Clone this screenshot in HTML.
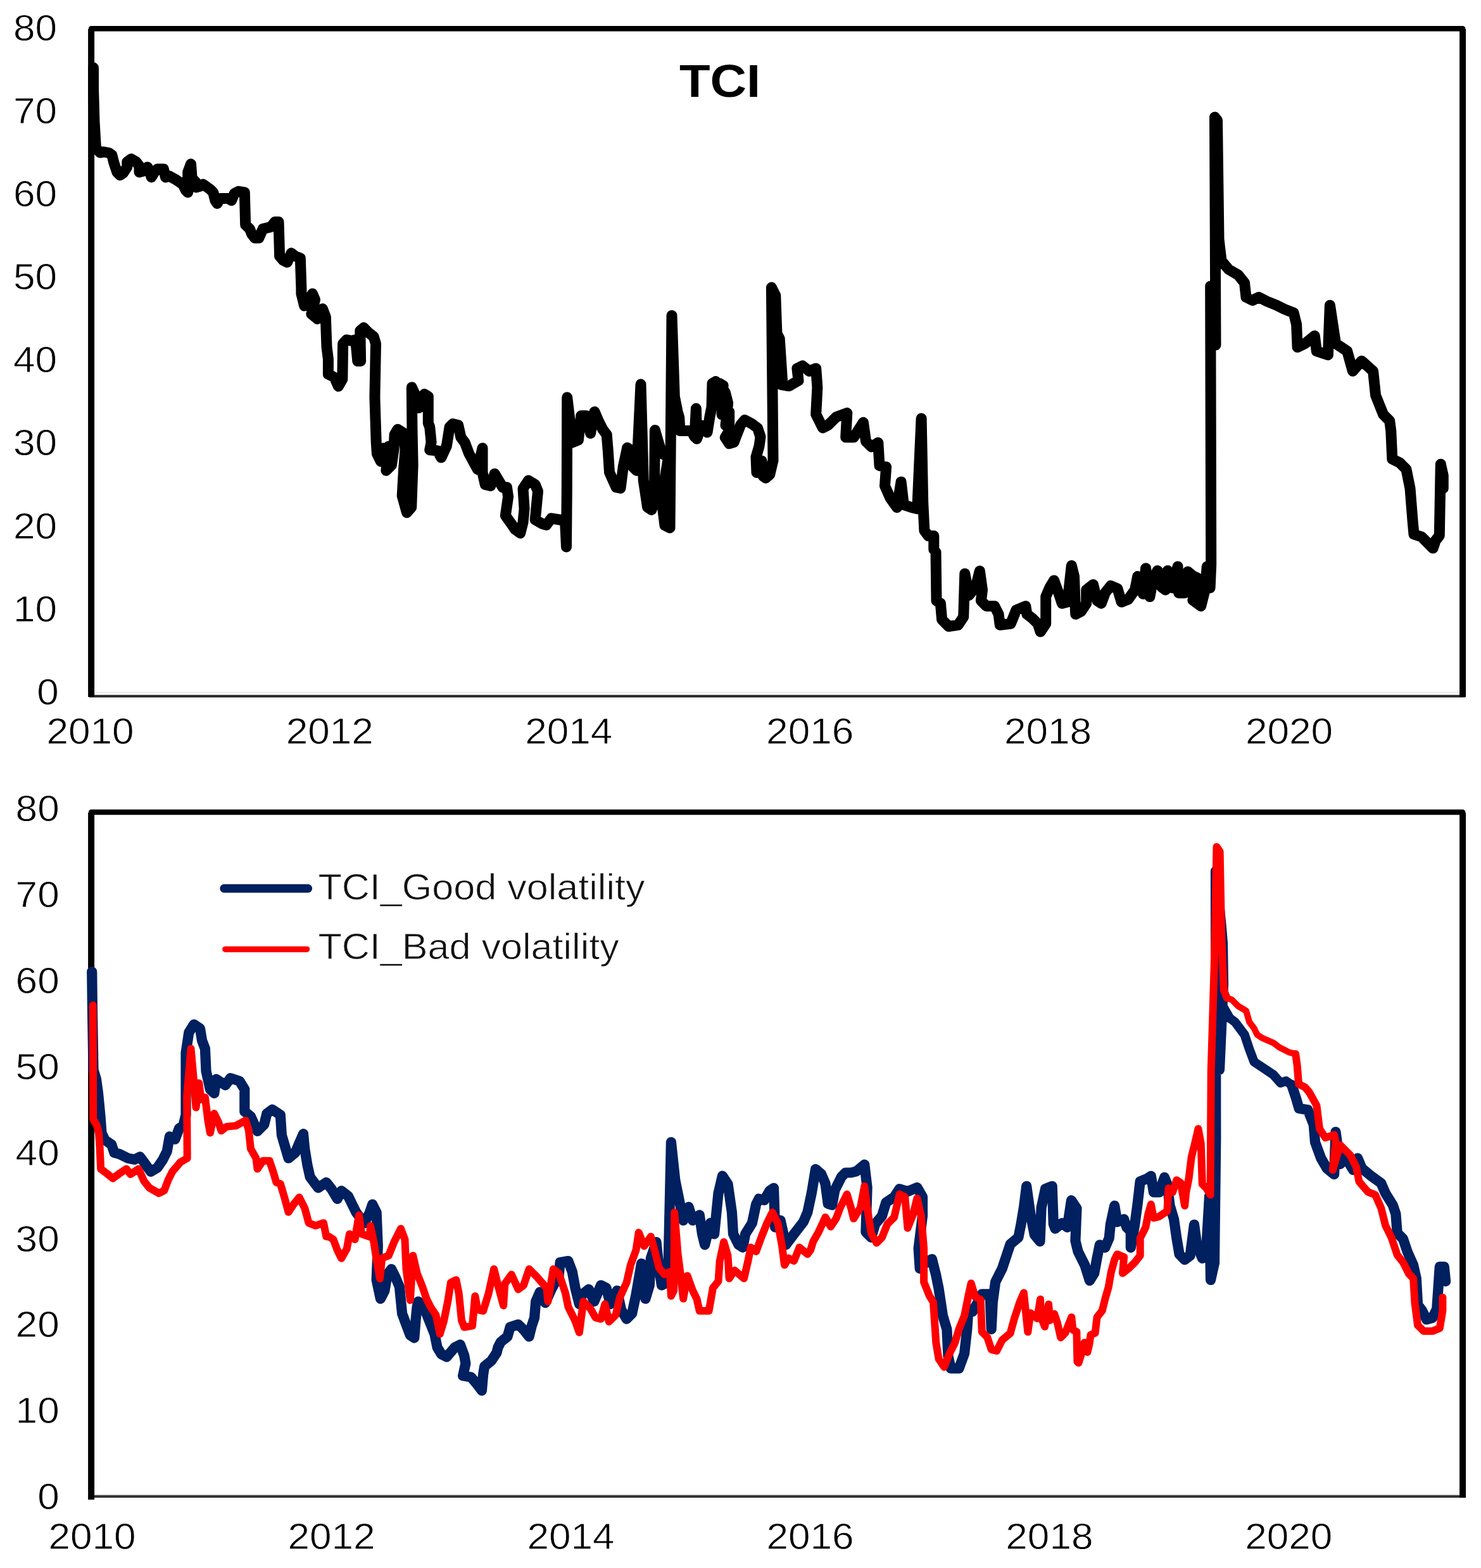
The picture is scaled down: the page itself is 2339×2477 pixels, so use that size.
<!DOCTYPE html>
<html><head><meta charset="utf-8"><title>TCI</title>
<style>html,body{margin:0;padding:0;background:#fff;}svg{display:block;}</style>
</head><body>
<svg width="2339" height="2477" viewBox="0 0 2339 2477">
<rect width="2339" height="2477" fill="#fff"/>

<g id="c1">
<line x1="141" y1="1093.8" x2="2313" y2="1093.8" stroke="#e2e2e2" stroke-width="1.3"/>
<line x1="141" y1="1099.8" x2="2314" y2="1099.8" stroke="#2a2a2a" stroke-width="4"/>
<path d="M144.1 1101 L144.1 45.35 L2310.1 45.35 L2310.1 1101" fill="none" stroke="#000" stroke-width="8.5" stroke-linejoin="round"/>
<path d="M144.1 1101 L144.1 46 M2310.1 46 L2310.1 1101" fill="none" stroke="#000" stroke-width="10"/>
<path d="M147.5 107.0L147.5 140.0 148.2 163.0 149.0 192.0 150.5 218.0 151.5 234.0 158.0 241.0 164.0 240.0 172.0 241.5 176.8 244.7 180.0 257.5 184.8 271.9 189.6 276.7 194.4 273.5 200.8 263.9 200.8 255.9 207.2 251.1 215.2 255.9 220.0 262.3 220.0 271.9 226.4 270.3 232.8 263.9 236.0 268.7 239.1 279.9 243.9 271.9 248.7 267.1 258.3 267.1 261.5 279.9 267.9 278.3 279.1 284.7 288.7 291.1 293.5 300.7 296.7 303.9 296.7 271.9 301.5 259.1 303.1 281.5 309.5 287.9 309.5 295.9 315.9 294.3 320.7 291.1 331.9 299.1 336.7 303.9 339.9 316.7 343.1 321.5 347.9 313.5 360.7 313.5 365.5 316.7 370.3 305.5 376.7 302.3 386.3 303.9 387.7 355.2 394.4 361.6 397.6 369.6 402.4 376.0 408.8 376.0 415.2 361.6 421.6 360.0 428.0 358.4 434.4 350.4 440.0 350.4 440.8 376.0 441.6 404.7 447.2 411.1 453.6 414.3 460.0 399.9 466.4 404.7 474.3 407.9 475.9 455.9 475.9 463.9 480.7 483.1 493.5 463.9 497.5 473.5 491.9 495.9 501.5 503.9 509.5 487.9 514.3 500.7 516.0 548.0 518.4 567.2 518.4 591.2 528.0 596.0 534.4 610.3 540.8 599.1 541.6 543.2 547.2 536.8 555.2 538.4 561.6 536.8 564.8 570.4 569.6 570.4 568.8 522.4 574.4 517.6 582.3 525.6 590.3 532.0 593.5 543.2 591.9 627.9 593.0 662.5 594.2 698.7 595.4 716.8 601.4 728.9 606.0 708.0 610.0 730.0 614.0 705.0 609.9 743.4 618.3 734.9 621.9 710.8 623.1 686.6 628.0 678.2 637.6 684.2 640.0 710.8 637.6 741.0 635.2 783.2 642.5 809.8 649.7 801.4 652.1 734.9 650.9 674.5 650.3 611.7 657.0 626.2 661.8 644.3 666.6 638.3 670.2 622.6 676.3 626.2 676.3 668.5 678.7 674.5 681.1 698.7 678.7 710.8 690.8 712.0 696.8 722.8 705.3 704.7 710.1 674.5 715.1 669.6 723.7 671.7 727.9 690.9 734.3 699.4 740.7 716.5 748.0 730.0 754.4 741.7 762.0 707.9 762.0 746.3 766.3 765.5 774.8 767.6 781.2 748.4 787.6 759.1 794.0 769.8 800.4 769.8 802.6 784.7 798.3 814.5 809.0 829.5 813.2 835.9 821.7 842.3 826.0 825.2 828.1 803.9 826.0 771.9 834.5 759.1 845.2 765.5 849.5 776.2 845.2 820.9 855.9 827.3 863.0 829.3 870.8 818.8 886.5 821.5 892.5 822.0 894.5 864.0 895.3 771.9 895.7 627.8 900.6 669.6 902.8 699.4 913.4 695.1 917.7 656.8 926.2 656.8 932.6 684.5 939.0 650.4 945.4 665.3 951.8 678.1 958.2 686.6 960.3 712.2 962.5 746.3 973.1 769.8 980.0 771.3 984.3 737.2 990.7 707.3 997.1 711.6 999.2 737.2 1005.6 743.6 1012.0 607.1 1016.2 758.5 1022.6 801.2 1029.0 805.4 1033.3 792.6 1034.4 679.6 1045.0 716.0 1055.6 722.0 1048.2 768.5 1045.0 790.0 1050.0 830.0 1058.0 834.0 1061.0 498.4 1065.3 626.3 1070.0 650.0 1072.8 660.0 1073.9 680.5 1092.0 680.5 1097.0 690.0 1099.4 645.3 1100.5 693.3 1108.0 672.0 1117.0 683.0 1121.0 658.0 1124.0 643.2 1125.0 605.8 1130.4 602.6 1134.0 640.0 1137.0 606.0 1142.1 609.0 1140.0 655.0 1145.3 619.7 1149.6 636.8 1146.0 672.0 1151.7 650.6 1151.7 680.5 1145.3 691.1 1151.7 700.7 1159.1 698.6 1162.3 690.0 1169.8 670.9 1176.2 663.4 1187.9 669.8 1196.5 676.2 1201.0 690.0 1199.0 705.0 1194.0 722.0 1195.0 746.6 1203.0 728.0 1205.0 752.0 1209.3 755.1 1215.7 749.8 1221.0 727.4 1218.4 454.1 1224.8 466.9 1226.9 526.6 1231.2 535.1 1235.4 599.1 1233.3 607.6 1246.1 609.8 1261.0 601.2 1258.9 582.0 1267.4 577.8 1278.1 586.3 1288.7 582.0 1290.9 611.9 1288.7 654.5 1299.4 675.9 1307.9 671.6 1320.7 658.8 1337.8 652.4 1335.7 690.8 1348.4 690.8 1363.4 667.3 1367.6 697.2 1376.2 705.7 1386.8 699.3 1389.0 735.6 1399.6 737.7 1397.5 767.6 1406.0 786.7 1416.7 801.7 1423.1 761.2 1427.3 797.4 1440.1 801.7 1448.7 803.8 1455.1 660.9 1457.7 793.3 1459.9 838.1 1466.2 846.6 1474.8 846.6 1474.8 867.9 1478.0 872.2 1479.0 949.0 1485.4 953.2 1487.6 978.8 1498.2 989.5 1513.2 987.3 1521.7 974.5 1523.8 906.3 1530.2 940.4 1540.9 927.6 1547.3 902.0 1551.5 931.9 1549.4 949.0 1557.9 957.5 1570.7 957.5 1577.1 970.3 1579.3 987.3 1596.3 985.2 1600.6 974.5 1604.8 963.9 1619.8 957.5 1621.9 970.3 1630.4 976.7 1639.0 985.2 1643.2 998.0 1651.7 985.2 1651.7 942.6 1658.1 927.6 1664.6 917.0 1673.1 940.4 1677.3 953.2 1685.9 951.1 1692.3 893.5 1696.5 910.6 1698.7 970.3 1707.2 966.0 1715.7 953.2 1715.7 931.9 1726.4 923.4 1732.8 949.0 1739.2 953.2 1745.6 936.2 1754.1 925.5 1764.8 929.8 1771.2 951.1 1781.8 946.8 1792.5 931.9 1796.7 910.6 1805.3 938.3 1809.5 897.8 1815.9 942.6 1820.2 919.1 1828.0 901.5 1834.4 927.1 1840.8 931.9 1844.0 901.5 1852.0 928.7 1860.0 895.1 1861.6 936.7 1871.2 936.7 1876.0 903.1 1883.9 909.5 1890.3 912.7 1883.9 947.9 1896.7 957.5 1899.9 944.7 1903.1 931.9 1906.3 895.1 1911.1 928.7 1912.7 891.9 1911.7 452.0 1920.0 545.0 1918.5 185.0 1922.5 190.0 1925.0 378.0 1929.0 412.0 1940.4 425.5 1955.5 434.3 1965.5 446.9 1968.0 469.5 1978.0 474.5 1988.2 469.5 2000.8 476.0 2015.9 482.2 2028.0 488.2 2043.1 494.2 2047.6 512.4 2049.1 548.6 2061.2 542.6 2076.3 530.5 2079.3 554.6 2097.4 560.7 2100.4 482.2 2109.5 542.6 2127.6 554.6 2136.4 586.3 2150.5 570.2 2168.6 586.3 2172.6 624.6 2176.6 634.6 2184.7 654.7 2194.7 664.8 2196.8 680.9 2198.8 725.2 2210.9 731.2 2220.9 741.3 2227.0 771.5 2231.0 821.8 2233.0 844.0 2245.1 848.0 2255.1 858.1 2263.2 866.1 2267.2 854.0 2273.3 846.0 2275.3 733.3 2279.3 751.4 2279.3 771.5" fill="none" stroke="#000" stroke-width="17" stroke-linejoin="round" stroke-linecap="round"/>
<g font-family="'Liberation Sans', Arial, sans-serif" font-size="57" fill="#000" stroke="#fff" stroke-width="0.8">
<text transform="translate(90.1,63.6) scale(1.09,1)" text-anchor="end">80</text>
<text transform="translate(90.1,194.8) scale(1.09,1)" text-anchor="end">70</text>
<text transform="translate(90.1,325.9) scale(1.09,1)" text-anchor="end">60</text>
<text transform="translate(90.1,457.1) scale(1.09,1)" text-anchor="end">50</text>
<text transform="translate(90.1,588.2) scale(1.09,1)" text-anchor="end">40</text>
<text transform="translate(90.1,719.4) scale(1.09,1)" text-anchor="end">30</text>
<text transform="translate(90.1,850.6) scale(1.09,1)" text-anchor="end">20</text>
<text transform="translate(90.1,981.7) scale(1.09,1)" text-anchor="end">10</text>
<text transform="translate(92.7,1112.9) scale(1.09,1)" text-anchor="end">0</text>
<text transform="translate(142.5,1174.5) scale(1.09,1)" text-anchor="middle">2010</text>
<text transform="translate(520.8,1174.5) scale(1.09,1)" text-anchor="middle">2012</text>
<text transform="translate(898.3,1174.5) scale(1.09,1)" text-anchor="middle">2014</text>
<text transform="translate(1279.2,1174.5) scale(1.09,1)" text-anchor="middle">2016</text>
<text transform="translate(1655.0,1174.5) scale(1.09,1)" text-anchor="middle">2018</text>
<text transform="translate(2036.0,1174.5) scale(1.09,1)" text-anchor="middle">2020</text>
</g>
<text transform="translate(1137.1,153.3) scale(1.112,1)" text-anchor="middle" font-family="'Liberation Sans', Arial, sans-serif" font-weight="bold" font-size="71.6" fill="#000">TCI</text>
</g>
<g id="c2">
<line x1="141" y1="2361" x2="2313" y2="2361" stroke="#dadada" stroke-width="1.5"/>
<line x1="141" y1="2364" x2="2314" y2="2364" stroke="#333" stroke-width="4"/>
<path d="M144.1 2369 L144.1 1283 L2310.1 1283 L2310.1 2366" fill="none" stroke="#000" stroke-width="8.5" stroke-linejoin="round"/>
<path d="M144.1 2369 L144.1 1284 M2310.1 1284 L2310.1 2366" fill="none" stroke="#000" stroke-width="10"/>
<path d="M145.2 1535.0L146.0 1600.0 147.5 1690.0 152.0 1705.0 155.0 1727.0 158.5 1763.0 160.5 1790.0 166.0 1801.0 176.2 1808.2 180.5 1821.0 189.0 1823.2 201.8 1829.6 212.5 1831.7 221.0 1827.4 227.4 1835.9 238.1 1850.9 248.7 1844.5 257.3 1831.7 263.7 1818.9 267.9 1795.4 276.5 1799.7 282.9 1782.6 289.3 1778.4 293.5 1761.3 293.5 1663.1 298.3 1631.1 306.3 1618.3 315.9 1624.7 319.1 1643.9 323.9 1656.7 325.5 1691.9 331.9 1720.7 338.3 1727.1 341.5 1704.7 355.9 1714.3 363.9 1703.1 378.3 1707.9 386.3 1720.7 386.3 1755.9 395.9 1763.5 406.5 1786.9 417.2 1776.2 421.4 1759.2 430.0 1752.8 442.8 1761.3 444.9 1793.3 455.6 1829.6 466.2 1821.0 479.0 1791.2 481.2 1814.6 485.4 1840.2 489.7 1859.4 502.5 1876.5 515.3 1867.9 523.8 1878.6 532.8 1894.0 539.2 1881.2 549.9 1889.7 556.2 1902.5 562.6 1915.3 575.4 1932.3 584.0 1915.3 588.2 1902.5 594.6 1915.3 596.8 1968.6 594.6 2021.9 601.0 2051.7 607.4 2039.0 611.7 2013.4 618.1 2004.8 624.5 2017.6 630.9 2032.6 635.1 2075.2 641.5 2092.3 647.9 2109.3 654.3 2113.6 656.5 2085.9 658.6 2064.5 660.7 2056.0 669.3 2064.5 677.8 2085.9 686.3 2107.2 690.6 2128.5 697.0 2139.2 705.5 2143.4 718.3 2128.5 726.8 2124.2 733.2 2141.3 735.4 2154.1 731.1 2173.3 743.9 2175.4 754.5 2188.2 760.9 2196.7 763.1 2171.2 765.2 2158.4 775.9 2149.8 784.4 2137.0 786.5 2128.5 790.8 2120.0 801.5 2111.4 805.7 2096.5 818.5 2092.3 827.1 2100.8 835.6 2111.4 839.8 2094.4 844.1 2081.6 846.2 2056.0 852.6 2041.1 861.2 2058.1 871.8 2034.7 882.5 2015.5 884.6 1994.2 897.4 1992.0 903.8 2009.1 908.5 2034.5 914.9 2060.1 919.2 2045.2 929.9 2036.7 938.4 2055.9 949.0 2030.3 957.6 2034.5 964.0 2060.1 974.6 2038.8 981.0 2068.7 989.6 2083.6 998.1 2075.1 1004.5 2045.2 1013.0 1996.2 1019.4 2051.6 1025.8 2030.3 1027.9 1987.6 1036.5 1962.1 1040.7 2002.6 1045.0 2030.3 1053.5 2026.0 1055.7 1991.9 1059.9 1804.3 1066.3 1864.0 1072.7 1895.9 1079.1 1927.9 1087.6 1906.6 1094.0 1927.9 1104.7 1919.4 1109.0 1949.3 1113.2 1966.3 1121.7 1932.2 1128.1 1949.3 1134.5 1885.3 1140.9 1857.6 1149.5 1870.4 1155.9 1915.1 1158.0 1949.3 1166.5 1966.3 1173.0 1970.6 1177.2 1949.3 1187.8 1932.2 1194.2 1902.3 1198.5 1893.8 1207.0 1895.9 1215.6 1881.0 1222.0 1876.8 1224.1 1938.6 1232.6 1927.9 1241.2 1966.3 1254.0 1949.3 1268.9 1930.1 1275.3 1915.1 1281.7 1885.3 1288.1 1846.9 1297.1 1854.6 1303.5 1869.6 1307.7 1901.5 1314.1 1903.7 1318.4 1880.2 1329.0 1858.9 1335.4 1852.5 1344.0 1852.5 1352.5 1850.4 1365.3 1839.7 1369.6 1875.9 1367.4 1946.3 1375.9 1954.8 1382.3 1933.5 1393.0 1920.7 1399.4 1899.4 1412.2 1890.9 1420.7 1878.1 1433.5 1882.3 1448.4 1875.9 1457.0 1890.9 1457.0 1920.7 1450.6 1971.9 1452.7 2003.9 1463.4 1993.2 1471.9 1989.0 1478.3 2014.5 1482.6 2035.9 1489.0 2078.5 1495.4 2099.8 1497.5 2142.5 1501.7 2161.7 1514.5 2161.7 1523.1 2138.2 1527.3 2099.8 1529.5 2067.8 1535.9 2072.1 1544.4 2057.2 1550.8 2044.4 1563.6 2044.4 1565.7 2099.8 1567.8 2057.2 1572.1 2025.2 1582.8 2003.9 1589.2 1984.7 1595.6 1965.5 1608.4 1954.8 1612.6 1933.5 1616.9 1907.9 1621.2 1873.8 1627.5 1918.6 1633.9 1950.6 1642.5 1961.2 1644.6 1907.9 1651.0 1878.1 1661.7 1873.8 1663.8 1933.5 1666.4 1940.9 1677.1 1932.4 1685.6 1938.8 1692.0 1896.2 1700.5 1909.0 1698.4 1960.1 1702.6 1977.2 1713.3 1998.5 1721.0 2023.0 1728.2 2011.3 1732.5 1987.8 1736.8 1966.5 1745.3 1970.8 1751.7 1955.9 1753.8 1934.5 1760.2 1904.7 1764.5 1930.3 1775.1 1926.0 1779.4 1938.8 1785.8 1945.2 1785.8 1970.8 1792.2 1934.5 1796.5 1902.6 1800.7 1866.3 1811.4 1862.0 1817.8 1857.8 1822.0 1883.4 1830.6 1883.4 1839.1 1859.9 1843.4 1870.6 1847.6 1904.7 1854.0 1926.0 1858.3 1955.9 1862.6 1981.4 1871.1 1990.0 1879.6 1983.6 1886.0 1934.5 1890.3 1966.5 1898.8 1987.8 1905.0 1975.0 1910.0 1890.0 1912.0 2022.0 1918.0 1995.0 1920.3 1800.0 1920.0 1376.0 1928.5 1461.0 1931.0 1490.0 1932.0 1555.0 1926.0 1690.0 1930.3 1589.4 1940.4 1607.0" fill="none" stroke="#002060" stroke-width="16.2" stroke-linejoin="round" stroke-linecap="round"/>
<path d="M1940.4 1607.0L1950.5 1614.5 1965.6 1634.7 1973.1 1657.3 1980.7 1677.5 1995.8 1687.5 2010.9 1697.6 2022.5 1710.7 2031.0 1707.6 2040.0 1713.9" fill="none" stroke="#002060" stroke-width="14.5" stroke-linejoin="round" stroke-linecap="round"/>
<path d="M2040.0 1713.9L2046.9 1734.7 2051.6 1750.9 2065.5 1753.2 2074.7 1776.4 2077.0 1804.2 2086.3 1829.6 2095.6 1845.8 2107.1 1855.1 2109.5 1788.0 2116.4 1838.9 2125.7 1829.6 2137.2 1848.2 2144.2 1829.6 2151.1 1845.8 2165.0 1857.4 2181.2 1869.0 2188.2 1885.2 2199.7 1903.7 2204.4 1917.6 2206.7 1947.7 2215.9 1957.0 2222.9 1977.8 2232.1 1998.6 2236.8 2019.5 2239.1 2061.1 2246.0 2070.4 2253.0 2084.3 2262.2 2082.0 2269.2 2068.1 2273.8 2001.0 2280.8 2001.0 2283.1 2024.1" fill="none" stroke="#002060" stroke-width="16.2" stroke-linejoin="round" stroke-linecap="round"/>
<path d="M146.8 1588.0L147.0 1660.0 147.2 1768.0 153.0 1778.0 156.0 1790.0 157.5 1810.4 159.2 1846.6 167.7 1853.0 178.4 1861.5 186.9 1855.1 199.7 1846.6 206.1 1855.1 218.9 1846.6 227.4 1865.8 236.0 1876.5 250.9 1885.0 259.4 1880.7 265.8 1863.7 272.2 1850.9 285.0 1835.9 295.7 1829.6 295.1 1731.9 301.5 1656.7 304.7 1691.9 309.5 1749.5 314.3 1711.1 317.5 1736.7 323.9 1733.5 328.7 1771.9 331.9 1789.5 338.3 1759.1 344.7 1771.9 349.5 1786.3 357.5 1779.9 372.4 1778.4 387.9 1770.0 392.7 1784.7 395.9 1814.6 404.4 1829.6 406.5 1846.6 415.1 1833.8 425.7 1833.8 432.1 1853.0 436.4 1867.9 442.8 1870.1 449.2 1891.4 455.6 1914.8 464.1 1902.0 472.6 1891.4 481.2 1908.4 487.6 1931.9 498.2 1936.2 511.0 1931.9 515.3 1953.2 520.0 1953.7 526.4 1957.9 532.8 1975.0 539.2 1987.8 547.7 1972.9 552.0 1949.4 560.5 1957.9 566.9 1919.6 571.2 1949.4 584.0 1953.7 585.0 1936.6 590.4 1962.2 594.6 1989.9 600.0 2019.8 603.2 1987.8 613.8 1983.5 622.3 1962.2 633.0 1940.9 639.4 1957.9 641.5 2004.8 647.9 2053.9 652.2 1983.5 658.6 2011.2 667.1 2032.6 673.5 2051.7 679.9 2064.5 688.4 2077.3 694.8 2107.2 701.2 2085.9 707.6 2053.9 711.9 2026.2 720.4 2021.9 724.7 2043.2 729.0 2085.9 733.2 2096.5 746.0 2094.4 750.3 2047.5 754.5 2068.8 763.1 2070.9 771.6 2043.2 780.1 2004.8 786.5 2030.4 795.1 2062.4 797.2 2028.3 807.8 2013.4 818.5 2036.8 827.0 2030.4 835.6 2004.8 848.4 2017.6 863.3 2034.7 865.4 2056.0 873.9 2004.8 882.5 2011.2 893.1 2043.2 897.4 2064.5 908.1 2085.9 914.9 2104.9 921.3 2055.9 932.0 2066.5 940.5 2081.4 949.0 2083.6 955.4 2060.1 961.8 2087.8 972.5 2077.2 978.9 2049.5 989.6 2026.0 995.9 1998.3 1004.5 1974.8 1008.7 1947.1 1017.3 1968.4 1027.9 1953.5 1034.3 1977.0 1040.7 2002.6 1049.3 2013.2 1057.8 2009.0 1059.9 2047.3 1064.2 2038.8 1065.2 1915.1 1070.6 1981.2 1074.8 2013.2 1079.1 2051.6 1085.5 2015.4 1094.0 2038.8 1100.4 2051.6 1104.7 2070.8 1119.6 2070.8 1126.0 2034.5 1134.5 2023.9 1136.7 1991.9 1143.1 1962.0 1149.5 1983.4 1151.6 2019.6 1160.1 2006.8 1175.0 2019.6 1181.4 1991.9 1185.7 1970.6 1194.2 1977.0 1202.8 1953.5 1211.3 1932.2 1219.8 1915.1 1228.4 1932.2 1234.8 1966.3 1239.0 1998.3 1245.4 1987.6 1254.0 1991.9 1262.5 1970.6 1275.3 1981.2 1280.0 1975.0 1284.3 1961.2 1292.8 1946.3 1303.5 1922.9 1312.0 1937.8 1320.5 1925.0 1326.9 1907.9 1337.6 1886.6 1344.0 1907.9 1348.2 1925.0 1358.9 1907.9 1365.3 1873.8 1369.6 1907.9 1375.9 1948.4 1384.5 1963.4 1393.0 1954.8 1401.5 1933.5 1412.2 1922.9 1420.7 1886.6 1429.3 1890.9 1433.5 1939.9 1442.0 1918.6 1448.4 1893.0 1454.8 1920.7 1459.1 1971.9 1459.1 2025.2 1467.6 2046.5 1474.0 2057.2 1478.3 2121.2 1482.6 2146.7 1491.1 2159.5 1499.6 2138.2 1508.1 2121.2 1514.5 2099.8 1523.1 2078.5 1529.5 2046.5 1533.7 2027.3 1540.1 2048.7 1548.7 2053.0 1550.8 2104.1 1559.3 2112.6 1565.7 2131.8 1574.2 2133.9 1582.8 2116.9 1595.6 2106.2 1602.0 2082.8 1610.5 2057.2 1616.9 2042.3 1623.3 2104.1 1627.5 2074.2 1638.2 2082.8 1643.0 2052.5 1644.0 2080.7 1650.1 2095.8 1656.1 2060.5 1658.1 2085.7 1665.2 2075.6 1670.2 2090.7 1675.2 2112.9 1682.3 2105.8 1692.3 2080.7 1694.4 2100.8 1700.4 2103.8 1701.4 2151.1 1703.4 2153.1 1710.5 2131.0 1712.5 2120.9 1717.5 2136.0 1720.5 2122.9 1722.5 2108.8 1729.6 2105.8 1732.6 2080.7 1740.7 2070.6 1745.7 2050.5 1750.7 2033.3 1754.7 2010.2 1760.2 1990.0 1764.5 1981.4 1775.1 1985.7 1773.0 2011.3 1783.7 2002.8 1792.2 1994.2 1800.7 1983.6 1800.7 1955.9 1809.3 1938.8 1813.5 1917.5 1817.8 1902.6 1822.0 1923.9 1830.6 1921.8 1843.4 1913.2 1845.5 1877.0 1851.9 1883.4 1858.3 1864.2 1864.7 1868.4 1871.1 1904.7 1873.2 1883.4 1877.5 1862.0 1881.7 1827.9 1888.1 1802.3 1892.4 1783.2 1896.7 1806.6 1898.8 1870.6 1905.2 1877.0 1911.6 1887.6 1912.7 1692.6 1917.7 1526.5 1921.5 1337.7 1926.6 1345.3 1929.1 1476.1 1932.8 1564.2 1937.9 1576.8" fill="none" stroke="#ff0000" stroke-width="12" stroke-linejoin="round" stroke-linecap="round"/>
<path d="M1937.9 1576.8L1945.4 1579.3 1955.5 1589.4 1968.1 1596.9 1973.1 1614.5 1980.7 1624.6 1985.7 1634.7 1993.2 1639.7 2010.9 1647.3 2020.9 1654.8 2036.0 1662.4 2046.1 1664.9" fill="none" stroke="#ff0000" stroke-width="10" stroke-linejoin="round" stroke-linecap="round"/>
<path d="M2046.1 1664.9L2048.6 1682.5 2051.1 1712.7 2061.2 1717.7 2067.8 1725.5 2079.4 1746.3 2084.0 1783.3 2093.2 1797.2 2107.1 1792.6 2109.5 1804.2 2104.8 1848.2 2116.4 1808.8 2132.6 1825.0 2141.9 1843.5 2146.5 1866.7 2160.4 1882.9 2172.0 1887.5 2181.2 1908.4 2188.2 1936.1 2197.4 1954.7 2206.7 1982.4 2215.9 1994.0 2225.2 2012.5 2232.1 2019.5 2234.5 2058.8 2239.1 2093.6 2248.4 2102.8 2262.2 2102.8 2273.8 2098.2 2278.4 2070.4 2278.4 2049.6" fill="none" stroke="#ff0000" stroke-width="12" stroke-linejoin="round" stroke-linecap="round"/>
<g font-family="'Liberation Sans', Arial, sans-serif" font-size="57" fill="#000" stroke="#fff" stroke-width="0.8">
<text transform="translate(93.7,1297.0) scale(1.09,1)" text-anchor="end">80</text>
<text transform="translate(93.7,1432.9) scale(1.09,1)" text-anchor="end">70</text>
<text transform="translate(93.7,1568.8) scale(1.09,1)" text-anchor="end">60</text>
<text transform="translate(93.7,1704.7) scale(1.09,1)" text-anchor="end">50</text>
<text transform="translate(93.7,1840.6) scale(1.09,1)" text-anchor="end">40</text>
<text transform="translate(93.7,1976.5) scale(1.09,1)" text-anchor="end">30</text>
<text transform="translate(93.7,2112.4) scale(1.09,1)" text-anchor="end">20</text>
<text transform="translate(93.7,2248.3) scale(1.09,1)" text-anchor="end">10</text>
<text transform="translate(93.7,2384.2) scale(1.09,1)" text-anchor="end">0</text>
<text transform="translate(145.5,2446.5) scale(1.09,1)" text-anchor="middle">2010</text>
<text transform="translate(523.5,2446.5) scale(1.09,1)" text-anchor="middle">2012</text>
<text transform="translate(901.5,2446.5) scale(1.09,1)" text-anchor="middle">2014</text>
<text transform="translate(1279.5,2446.5) scale(1.09,1)" text-anchor="middle">2016</text>
<text transform="translate(1657.4,2446.5) scale(1.09,1)" text-anchor="middle">2018</text>
<text transform="translate(2035.3,2446.5) scale(1.09,1)" text-anchor="middle">2020</text>
</g>
<line x1="354" y1="1403.5" x2="486.4" y2="1403.5" stroke="#002060" stroke-width="13.4" stroke-linecap="round"/>
<line x1="355.7" y1="1499.6" x2="484.7" y2="1499.6" stroke="#ff0000" stroke-width="9.2" stroke-linecap="round"/>
<g font-family="'Liberation Sans', Arial, sans-serif" font-size="57" fill="#111" stroke="#fff" stroke-width="0.8">
<text transform="translate(502.4,1421.3) scale(1.072,1)">TCI_Good volatility</text>
<text transform="translate(502.4,1514.8) scale(1.072,1)">TCI_Bad volatility</text>
</g>
</g>
</svg>
</body></html>
